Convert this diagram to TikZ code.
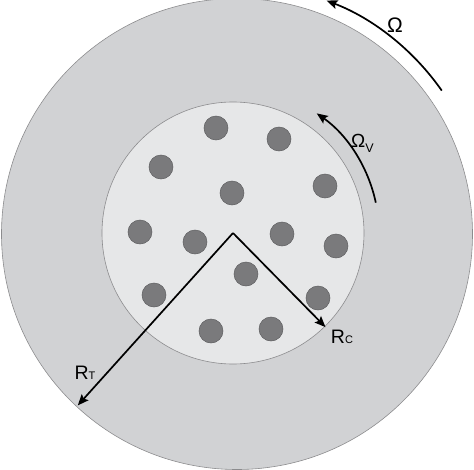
\documentclass[tikz,border=0pt]{standalone}
\usepackage{fontspec}
\setmainfont{Liberation Sans}
\usepackage{tikz}
\usetikzlibrary{arrows.meta,calc}
\definecolor{ring}{HTML}{D1D2D4}
\definecolor{core}{HTML}{E6E7E8}
\definecolor{rim}{HTML}{8C8C8E}
\definecolor{vortex}{HTML}{7A7A7C}
\definecolor{vedge}{HTML}{5E5E60}
\tikzset{
  disk/.style={draw=rim, line width=0.6pt},
  vtx/.style={circle, fill=vortex, draw=vedge, line width=0.5pt, minimum size=24pt, inner sep=0pt},
  spin/.style={draw=black, line width=1.7pt, -{Stealth[length=11pt,width=9pt,inset=2pt]}},
  radius/.style={draw=black, line width=1.7pt, -{Stealth[length=11pt,width=9pt,inset=2pt]}},
  lab/.style={text=black, inner sep=0pt},
}
\begin{document}
\begin{tikzpicture}[x=1pt,y=1pt]
  \useasboundingbox (-237,-235) rectangle (237,234);
  \coordinate (O) at (0,0);
  \coordinate (ctr) at (-4,1);

  \draw[disk, fill=ring] (O) circle (235.5);
  \draw[disk, fill=core] (ctr) circle (131);

  % vortices in the core
  \foreach \vx/\vy [count=\i] in {-17/105, 46/94, -72/66, -1/40, 92/47, -93/1, -38/-9,
      49/-1, 103/-13, 13/-41, -79/-62, 85/-65, -22/-98, 38/-96}
    \node[vtx] (v\i) at ($(ctr)+(\vx,\vy)$) {};

  % radii
  \coordinate (rt) at ($(ctr)+(228:232)$);
  \coordinate (rc) at ($(ctr)+(-45.5:132)$);
  \draw[radius] (ctr) -- (rt);
  \draw[radius] (ctr) -- (rc);
  \node[lab] (rtlab) at ($(ctr)+(-148,-140)$) {\fontsize{19.5}{20}\selectfont R\fontsize{11}{12}\selectfont T};
  \node[lab] (rclab) at ($(ctr)+(109,-104)$) {\fontsize{19.5}{20}\selectfont R\fontsize{11}{12}\selectfont C};

  % rotations
  \draw[spin] ($(O)+(35:250)$) arc (35:69:250);
  \node[lab] (omega) at (158,209) {\fontsize{21}{22}\selectfont Ω};
  \draw[spin] ($(ctr)+(12:146)$) arc (12:55:146);
  \node[lab, anchor=base west] (omegav) at ($(ctr)+(118,86)$)
    {\fontsize{19}{20}\selectfont Ω\raisebox{-5pt}{\fontsize{12.5}{13}\selectfont V}};
\end{tikzpicture}
\end{document}
